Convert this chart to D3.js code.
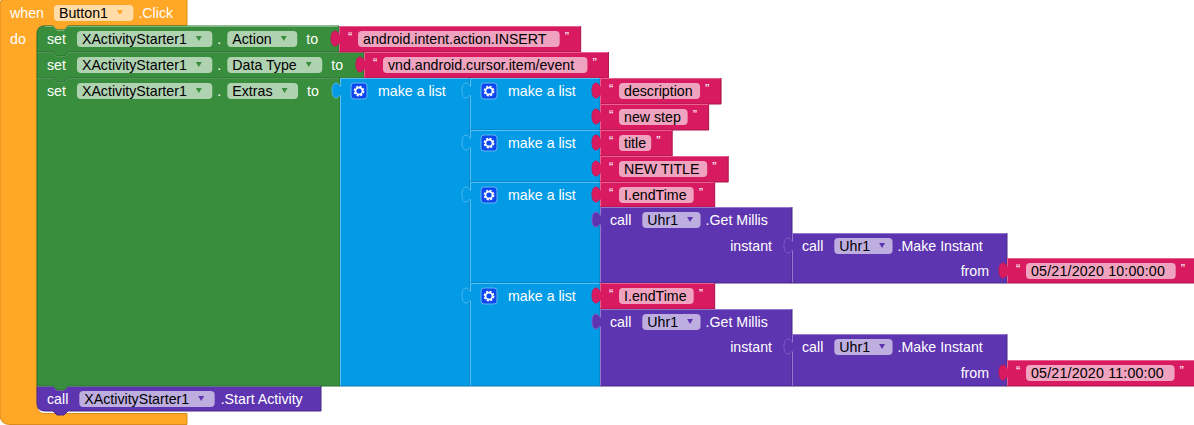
<!DOCTYPE html>
<html>
<head>
<meta charset="utf-8">
<script src="https://cdn.jsdelivr.net/npm/d3@7"></script>
<style>
  html, body { margin: 0; padding: 0; background: #fff; }
  text { font-family: "Liberation Sans", Arial, sans-serif; font-size: 14.2px; white-space: pre; }
</style>
</head>
<body>
<div id="plot"></div>
<script>
// block texts
const eventWords = ["when", ".Click", "do"];
const eventComponent = "Button1";
const starterComponent = "XActivityStarter1";
const setWords = ["set", ".", "to"];
const setProperties = ["Action", "Data Type", "Extras"];
const setStrings = ["android.intent.action.INSERT", "vnd.android.cursor.item/event"];
const listLabel = "make a list";
const listKeys = ["description", "title", "I.endTime", "I.endTime"];
const listValues = ["new step", "NEW TITLE", "05/21/2020 10:00:00", "05/21/2020 11:00:00"];
const clockComponent = "Uhr1";
const callWord = "call";
const clockMethods = [".Get Millis", ".Make Instant"];
const clockSockets = ["instant", "from"];
const startMethod = ".Start Activity";

const hues = {
  orange: { fill: "#FFA726", dark: "#D98C1C", light: "#FFC163", tab: "#FFA726" },
  green: { fill: "#388E3C", dark: "#2B7030", light: "#7CB880", tab: "#388E3C" },
  pink: { fill: "#D81B60", dark: "#A9144B", light: "#E8608F", tab: "#C4185A" },
  blue: { fill: "#039BE5", dark: "#0279B3", light: "#5CC0F0", tab: "#4DB6EC" },
  purple: { fill: "#5E35B1", dark: "#482888", light: "#9478CE", tab: "#7E5CC4" }
};

const svg = d3.select("#plot").append("svg")
  .attr("width", 1194)
  .attr("height", 425)
  .style("display", "block");

// rows of the stack: 26px high at the top, a bit less further down
const rowY = d3.scaleLinear().domain([0, 6, 10, 14]).range([26, 182, 283, 385.5]);
const ry = r => Math.round(rowY(r));

const measure = svg.append("text").attr("x", -500).attr("y", -500);
function textWidth(s) {
  return measure.style("letter-spacing", spacing(s)).text(s).node().getComputedTextLength();
}

// the digits in the reference are hinted wider than the rest
function spacing(s) {
  return s.indexOf("/20") >= 0 && s.indexOf(":") >= 0 ? "0.2px" : null;
}

function label(x, y, s, color, anchor) {
  return svg.append("text")
    .attr("x", x).attr("y", y)
    .attr("fill", color || "#fff")
    .attr("text-anchor", anchor || "start")
    .style("letter-spacing", spacing(s))
    .text(s);
}

function tabPart(x, y) {
  return "C" + (x - 1) + "," + (y + 17) + " " + (x - 1) + "," + (y + 20) + " " + (x - 4) + "," + (y + 20) +
    "C" + (x - 7) + "," + (y + 20) + " " + (x - 8) + "," + (y + 16) + " " + (x - 8) + "," + (y + 12.5) +
    "C" + (x - 8) + "," + (y + 9) + " " + (x - 7) + "," + (y + 5) + " " + (x - 4) + "," + (y + 5) +
    "C" + (x - 1) + "," + (y + 5) + " " + (x - 1) + "," + (y + 8) + " " + x + "," + (y + 8);
}

// value block: flat rectangle with a puzzle tab on its left side
function valueBlock(x, y, w, h, hue) {
  const c = hues[hue];
  svg.append("path")
    .attr("d", "M" + x + "," + y + "H" + (x + w) + "V" + (y + h) + "H" + x + "V" + (y + 17) + tabPart(x, y) + "Z")
    .attr("fill", c.fill);
  // dark on the right and bottom, light on the left and top
  svg.append("path")
    .attr("d", "M" + (x + w) + "," + y + "V" + (y + h) + "H" + x)
    .attr("fill", "none")
    .attr("stroke", c.dark);
  svg.append("path")
    .attr("d", "M" + x + "," + (y + h - 1) + "V" + (y + 17) + "M" + x + "," + (y + 8) + "V" + y + "H" + (x + w - 1))
    .attr("fill", "none")
    .attr("stroke", c.light)
    .attr("transform", "translate(0.5,0.5)");
  svg.append("path")
    .attr("d", "M" + x + "," + (y + 17) + tabPart(x, y))
    .attr("fill", "none")
    .attr("stroke", c.tab);
}

// statement block: notch on top, bump below
function stackBlock(x, y, w, h, hue, roundTop, roundBottom) {
  const c = hues[hue];
  const r = 8;
  const d = "M" + x + "," + (y + (roundTop ? r : 0)) +
    (roundTop ? "Q" + x + "," + y + " " + (x + r) + "," + y : "") +
    "H" + (x + 16) + "L" + (x + 20) + "," + (y + 4) + "H" + (x + 27) + "L" + (x + 31) + "," + y +
    "H" + (x + w) + "V" + (y + h) +
    "H" + (x + 31) + "L" + (x + 27) + "," + (y + h + 4) + "H" + (x + 20) + "L" + (x + 16) + "," + (y + h) +
    (roundBottom ? "H" + (x + r) + "Q" + x + "," + (y + h) + " " + x + "," + (y + h - r) : "H" + x) + "Z";
  svg.append("path").attr("d", d).attr("fill", c.fill).attr("stroke", c.dark);
  svg.append("path")
    .attr("d", "M" + (x + (roundTop ? r : 0)) + "," + y + "H" + (x + 16) + "L" + (x + 20) + "," + (y + 4) + "H" + (x + 27) + "L" + (x + 31) + "," + y + "H" + (x + w - 1))
    .attr("fill", "none")
    .attr("stroke", c.light)
    .attr("transform", "translate(0,0.5)");
}

// dropdown field, returns the x where it ends
function dropdown(x, y, s, hue, pad) {
  const tw = textWidth(s);
  const w = tw + (pad || 30.5);
  svg.append("rect")
    .attr("x", x).attr("y", y + 5).attr("width", w).attr("height", 16).attr("rx", 4)
    .attr("fill", "#fff").attr("fill-opacity", 0.6);
  label(x + 5, y + 18, s, "#000");
  const ax = x + tw + 17;
  svg.append("path")
    .attr("d", "M" + (ax - 3) + "," + (y + 10) + "H" + (ax + 3) + "L" + ax + "," + (y + 15) + "Z")
    .attr("fill", hues[hue].fill);
  return x + w;
}

// text block with quotes and an editable field, returns its right edge
function stringBlock(x, y, h, s) {
  const fieldW = textWidth(s) * 1.05 + 9;
  const w = 19 + fieldW + 21;
  valueBlock(x, y, w, h, "pink");
  svg.append("text").attr("x", x + 9).attr("y", y + 15).attr("fill", "#fff").style("font-size", "13px").text("\u201C");
  svg.append("rect")
    .attr("x", x + 19).attr("y", y + 5).attr("width", fieldW).attr("height", 16).attr("rx", 4)
    .attr("fill", "#fff").attr("fill-opacity", 0.6);
  label(x + 24, y + 18, s, "#000");
  svg.append("text").attr("x", x + 19 + fieldW + 5).attr("y", y + 15).attr("fill", "#fff").style("font-size", "13px").text("\u201D");
  return x + w;
}

function gearIcon(x, y) {
  svg.append("rect")
    .attr("x", x).attr("y", y).attr("width", 16).attr("height", 16).attr("rx", 3)
    .attr("fill", "#0D47F0").attr("stroke", "#63B4F0");
  svg.append("circle")
    .attr("cx", x + 8).attr("cy", y + 8).attr("r", 4.6)
    .attr("fill", "none").attr("stroke", "#fff").attr("stroke-width", 1.6).attr("stroke-dasharray", "2.2 1.4");
  svg.append("circle")
    .attr("cx", x + 8).attr("cy", y + 8).attr("r", 3.4)
    .attr("fill", "none").attr("stroke", "#fff").attr("stroke-width", 1.6);
}

function listBlock(x, y, h) {
  const w = Math.round(62 + textWidth(listLabel));
  valueBlock(x, y, w, h, "blue");
  gearIcon(x + 11, y + 5);
  label(x + 38, y + 18, listLabel);
  return x + w;
}

// clock call block, grows by the rows it spans; returns right edge
function clockCall(x, y, h, method) {
  const start = x + 10;
  const fieldX = start + textWidth(callWord) + 11;
  const methodX = fieldX + textWidth(clockComponent) + 27.5 + 5;
  const right = Math.round(methodX + textWidth(method) + 24.5);
  valueBlock(x, y, right - x, h, "purple");
  label(start, y + 18, callWord);
  dropdown(fieldX, y, clockComponent, "purple", 27.5);
  label(methodX, y + 18, method);
  return right;
}

// ---- event block (drawn first, everything else sits in its mouth)
const hat = hues.orange;
const hatTop = ry(0);
const hatBottom = ry(15) + 3;
svg.append("path")
  .attr("d", "M0,4Q0,0 4,0H187V" + hatTop + "H68L64," + (hatTop + 4) + "H57L53," + hatTop + "H45Q37," + hatTop + " 37," + (hatTop + 8) +
    "V" + (hatBottom - 8) + "Q37," + hatBottom + " 45," + hatBottom + "H187V425H10Q0,425 0,415Z")
  .attr("fill", hat.fill)
  .attr("stroke", hat.dark)
  .attr("transform", "translate(0,-0.5)");
label(10, 18, eventWords[0]);
const btnEnd = dropdown(54, 0, eventComponent, "orange");
label(btnEnd + 5, 18, eventWords[1]);
label(10, 44, eventWords[2]);

// ---- statement stack, bottom up so each bump lies on the block under it
const stackX = 37;
const setRows = setProperties.map((p, i) => i);
const startFieldX = stackX + 10 + textWidth(callWord) + 11;
const callEnd = Math.round(startFieldX + textWidth(starterComponent) + 30.5 + 6 + textWidth(startMethod) + 18);
stackBlock(stackX, ry(14), callEnd - stackX, ry(15) - ry(14), "purple", false, true);
label(stackX + 10, ry(14) + 18, callWord);
const startField = dropdown(startFieldX, ry(14), starterComponent, "purple");
label(startField + 6, ry(14) + 18, startMethod);

function setEnd(prop) {
  const first = stackX + 10 + textWidth(setWords[0]) + 11 + textWidth(starterComponent) + 30.5;
  return Math.round(first + 15 + textWidth(prop) + 30.5 + 9 + textWidth(setWords[2]) + 21);
}

setRows.slice().reverse().forEach(function (r) {
  const y = ry(r);
  const bottom = r === 2 ? ry(14) : ry(r + 1);
  stackBlock(stackX, y, setEnd(setProperties[r]) - stackX, bottom - y, "green", r === 0, false);
  label(stackX + 10, y + 18, setWords[0]);
  const f1 = dropdown(stackX + 10 + textWidth(setWords[0]) + 11, y, starterComponent, "green");
  label(f1 + 5, y + 18, setWords[1]);
  const f2 = dropdown(f1 + 15, y, setProperties[r], "green");
  label(f2 + 9, y + 18, setWords[2]);
});

// ---- plain strings on the first two set rows
setStrings.forEach(function (s, i) {
  stringBlock(setEnd(setProperties[i]), ry(i), ry(i + 1) - ry(i), s);
});

// ---- make a list, one nested list per key/value pair
const outerX = setEnd(setProperties[2]);
const innerX = listBlock(outerX, ry(2), ry(14) - ry(2));
let row = 2;
listKeys.forEach(function (key, i) {
  const isTime = listValues[i].indexOf("/") >= 0;
  const span = isTime ? 4 : 2;
  const y = ry(row);
  const valueX = listBlock(innerX, y, ry(row + span) - y);
  stringBlock(valueX, y, ry(row + 1) - y, key);
  if (!isTime) {
    stringBlock(valueX, ry(row + 1), ry(row + 2) - ry(row + 1), listValues[i]);
  } else {
    const y1 = ry(row + 1), y2 = ry(row + 2), y3 = ry(row + 3), y4 = ry(row + 4);
    const x1 = clockCall(valueX, y1, y4 - y1, clockMethods[0]);
    label(x1 - 20, y2 + 18, clockSockets[0], "#fff", "end");
    const x2 = clockCall(x1, y2, y4 - y2, clockMethods[1]);
    label(x2 - 18, y3 + 18, clockSockets[1], "#fff", "end");
    stringBlock(x2, y3, y4 - y3, listValues[i]);
  }
  row += span;
});
measure.remove();
</script>
</body>
</html>
